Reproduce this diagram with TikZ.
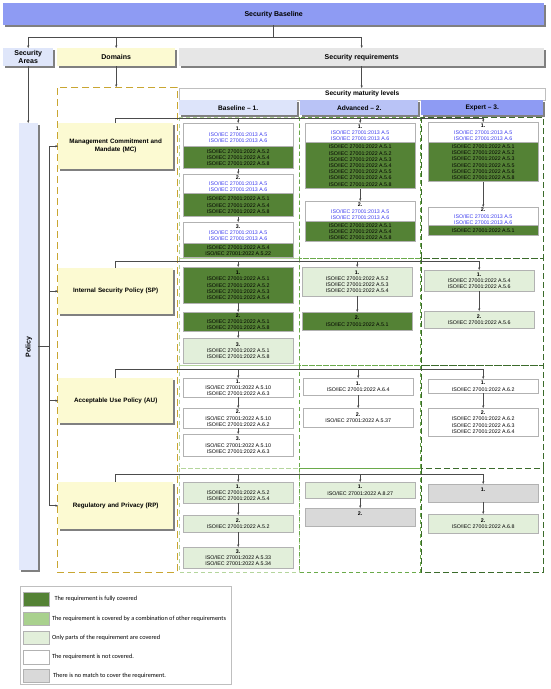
\documentclass[tikz,border=0pt]{standalone}
\usepackage{fontspec}
\setmainfont{Liberation Sans}
\newfontfamily\legfont{Carlito}
\usetikzlibrary{arrows.meta,shadows}
\definecolor{cSB}{HTML}{8E9BF3}
\definecolor{cSA}{HTML}{DFE6FA}
\definecolor{cDom}{HTML}{FCFAD2}
\definecolor{cSR}{HTML}{E6E6E6}
\definecolor{cLB}{HTML}{DDE4FA}
\definecolor{cLA}{HTML}{B9C3F6}
\definecolor{cLE}{HTML}{8E9BF3}
\definecolor{cPol}{HTML}{E3E9FB}
\definecolor{cFull}{HTML}{548235}
\definecolor{cComb}{HTML}{A9D18E}
\definecolor{cPart}{HTML}{E2EFDA}
\definecolor{cNone}{HTML}{D9D9D9}
\definecolor{cBlue}{HTML}{3B3BEF}
\definecolor{cGold}{HTML}{C9A632}
\definecolor{cFrB}{HTML}{B4D59C}
\definecolor{cFrA}{HTML}{6AAA4A}
\definecolor{cFrE}{HTML}{3B6B2B}
\newcommand\isoold[1]{\textcolor{cBlue}{ISO/IEC 27001:2013 A.#1}}
\newcommand\isonew[1]{ISO/IEC 27001:2022 A.#1}
\newcommand\stepnum[1]{\textbf{#1}}
\tikzset{
  shad/.style={drop shadow={shadow xshift=2pt,shadow yshift=-2pt,fill=black!50,opacity=1}},
  hdr/.style={anchor=north west, inner sep=0pt, shad, align=center, font=\fontsize{7}{8.5}\selectfont\bfseries},
  lvl/.style={anchor=north west, inner sep=0pt, shad, minimum height=15pt, font=\fontsize{6.6}{8}\selectfont\bfseries},
  dombox/.style={anchor=north west, inner sep=0pt, shad, fill=cDom, minimum width=115pt, text width=108pt, align=center, font=\fontsize{6.3}{8}\selectfont\bfseries},
  cellbase/.style={draw=black!30, line width=0.4pt, inner sep=0pt, minimum width=110pt, align=center, font=\fontsize{5.3}{6.2}\selectfont},
  cw/.style={cellbase, fill=white},
  cg/.style={cellbase, fill=cFull},
  cl/.style={cellbase, fill=cPart},
  cx/.style={cellbase, fill=cNone},
  conn/.style={draw=black!70, line width=0.45pt},
  arr/.style={conn, -{Stealth[length=2.6pt,width=2.2pt]}},
  frB/.style={draw=cFrB, line width=0.7pt, dash pattern=on 4pt off 3pt},
  frA/.style={draw=cFrA, line width=0.7pt, dash pattern=on 4pt off 3pt},
  frE/.style={draw=cFrE, line width=0.8pt, dash pattern=on 6pt off 3pt},
  domframe/.style={anchor=north west, draw=cGold, line width=0.9pt, dash pattern=on 7pt off 4pt, inner sep=0pt},
  swatch/.style={anchor=north west, draw=black!30, line width=0.4pt, minimum width=26pt, inner sep=0pt},
  legt/.style={anchor=west, inner sep=0pt, font=\legfont\fontsize{6.3}{7.5}\selectfont},
}
\begin{document}
\begin{tikzpicture}[x=1pt,y=-1pt]
\useasboundingbox (0,0) rectangle (550,689);
% ---------- header ----------
\node[hdr, fill=cSB, minimum width=541pt, minimum height=22pt] (sb) at (3,3) {Security Baseline};
\node[hdr, fill=cSA, minimum width=50pt, minimum height=18pt] (sa) at (3,48) {Security\\Areas};
\node[hdr, fill=cDom, minimum width=118pt, minimum height=18pt] (dom) at (57,48) {Domains};
\node[hdr, fill=cSR, minimum width=365pt, minimum height=18pt] (sr) at (179,48) {Security requirements};
\coordinate (bus0) at (0,37);
\draw[conn] (sb.south) -- (sb.south |- bus0);
\draw[conn] (sa.north |- bus0) -- (sr.north |- bus0);
\draw[arr] (sa.north |- bus0) -- (sa.north);
\draw[arr] (dom.north |- bus0) -- (dom.north);
\draw[arr] (sr.north |- bus0) -- (sr.north);
% ---------- column frames ----------
\foreach \ya/\yb in {117/258,258/365,365/468,468/572}{
  \draw[frB] (179,\ya) rectangle (299,\yb);
  \draw[frA] (299,\ya) rectangle (420,\yb);
  \draw[frE] (421,\ya) rectangle (543,\yb);
}
\node[domframe, minimum width=120pt, minimum height=485pt] (domf) at (57,87) {};
\draw[arr] (dom.south) -- (dom.south |- domf.north);
% ---------- maturity levels ----------
\node[anchor=north west, draw=black!25, fill=white, inner sep=0pt, minimum width=366pt, minimum height=12pt, font=\fontsize{6.6}{8}\selectfont\bfseries] (sml) at (179,88) {Security maturity levels};
\draw[arr] (sr.south) -- (sr.south |- sml.north);
\node[lvl, fill=cLB, minimum width=118pt] (lvB) at (179,100) {Baseline -- 1.};
\node[lvl, fill=cLA, minimum width=118pt] (lvA) at (300,100) {Advanced -- 2.};
\node[lvl, fill=cLE, minimum width=122pt] (lvE) at (421,100) {Expert -- 3.};
% ---------- policy ----------
\node[anchor=north west, inner sep=0pt, shad, fill=cPol, minimum width=19pt, minimum height=447pt] (pol) at (19,123) {};
\node[rotate=90, inner sep=0pt, font=\fontsize{7}{8.5}\selectfont\bfseries] (polt) at (pol.center) {Policy};
\draw[arr] (sa.south) -- (sa.south |- pol.north);
% ---------- domains ----------
\node[dombox, minimum height=46pt] (mc) at (58,123) {Management Commitment and\\Mandate (MC)};
\node[dombox, minimum height=46pt] (sp) at (58,268) {Internal Security Policy (SP)};
\node[dombox, minimum height=45pt] (au) at (58,378) {Acceptable Use Policy (AU)};
\node[dombox, minimum height=47pt] (rp) at (58,482) {Regulatory and Privacy (RP)};
\coordinate (pj) at (49,0);
\draw[conn] (pol.east) -- (pol.east -| pj);
\draw[conn] (pj |- mc.west) -- (pj |- rp.west);
\draw[arr] (pj |- mc.west) -- (mc.west);
\draw[arr] (pj |- sp.west) -- (sp.west);
\draw[arr] (pj |- au.west) -- (au.west);
\draw[arr] (pj |- rp.west) -- (rp.west);
% ---------- MC row ----------
\node[cw, anchor=north west, minimum height=23pt] (mB1a) at (183,123) {\stepnum{1.}\\\isoold{5}\\\isoold{6}};
\node[cg, anchor=north, minimum height=22pt] (mB1b) at (mB1a.south) {\isonew{5.2}\\\isonew{5.4}\\\isonew{5.8}};
\node[cw, anchor=north west, minimum height=19pt] (mB2a) at (183,174) {\stepnum{2.}\\\isoold{5}\\\isoold{6}};
\node[cg, anchor=north, minimum height=23pt] (mB2b) at (mB2a.south) {\isonew{5.1}\\\isonew{5.4}\\\isonew{5.8}};
\node[cw, anchor=north west, minimum height=21pt] (mB3a) at (183,222) {\stepnum{3.}\\\isoold{5}\\\isoold{6}};
\node[cg, anchor=north, minimum height=14pt] (mB3b) at (mB3a.south) {\isonew{5.4}\\\isonew{5.22}};
\draw[arr] (mB1b.south) -- (mB2a.north);
\draw[arr] (mB2b.south) -- (mB3a.north);
\node[cw, anchor=north west, minimum height=19pt] (mA1a) at (305,123) {\stepnum{1.}\\\isoold{5}\\\isoold{6}};
\node[cg, anchor=north, minimum height=46pt] (mA1b) at (mA1a.south) {\isonew{5.1}\\\isonew{5.2}\\\isonew{5.3}\\\isonew{5.4}\\\isonew{5.5}\\\isonew{5.6}\\\isonew{5.8}};
\node[cw, anchor=north west, minimum height=20pt] (mA2a) at (305,201) {\stepnum{2.}\\\isoold{5}\\\isoold{6}};
\node[cg, anchor=north, minimum height=20pt] (mA2b) at (mA2a.south) {\isonew{5.1}\\\isonew{5.4}\\\isonew{5.8}};
\draw[arr] (mA1b.south) -- (mA2a.north);
\node[cw, anchor=north west, minimum height=20pt] (mE1a) at (428,122) {\stepnum{1.}\\\isoold{5}\\\isoold{6}};
\node[cg, anchor=north, minimum height=39pt] (mE1b) at (mE1a.south) {\isonew{5.1}\\\isonew{5.2}\\\isonew{5.3}\\\isonew{5.5}\\\isonew{5.6}\\\isonew{5.8}};
\node[cw, anchor=north west, minimum height=18pt] (mE2a) at (428,207) {\stepnum{2.}\\\isoold{5}\\\isoold{6}};
\node[cg, anchor=north, minimum height=10pt] (mE2b) at (mE2a.south) {\isonew{5.1}};
\draw[arr] (mE1b.south) -- (mE2a.north);
\coordinate (busM) at (0,118);
\draw[conn] (mc.north) |- (mE1a.north |- busM);
\draw[arr] (mB1a.north |- busM) -- (mB1a.north);
\draw[arr] (mA1a.north |- busM) -- (mA1a.north);
\draw[arr] (mE1a.north |- busM) -- (mE1a.north);
% ---------- SP row ----------
\node[cg, anchor=north west, minimum height=36pt] (sB1) at (183,267) {\stepnum{1.}\\\isonew{5.1}\\\isonew{5.2}\\\isonew{5.3}\\\isonew{5.4}};
\node[cg, anchor=north west, minimum height=19pt] (sB2) at (183,312) {\stepnum{2.}\\\isonew{5.1}\\\isonew{5.8}};
\node[cl, anchor=north west, minimum height=25pt] (sB3) at (183,338) {\stepnum{3.}\\\isonew{5.1}\\\isonew{5.8}};
\draw[arr] (sB1.south) -- (sB2.north);
\draw[arr] (sB2.south) -- (sB3.north);
\node[cl, anchor=north west, minimum height=29pt] (sA1) at (302,267) {\stepnum{1.}\\\isonew{5.2}\\\isonew{5.3}\\\isonew{5.4}};
\node[cg, anchor=north west, minimum height=18pt] (sA2) at (302,312) {\stepnum{2.}\\\isonew{5.1}};
\draw[arr] (sA1.south) -- (sA2.north);
\node[cl, anchor=north west, minimum height=21pt] (sE1) at (424,270) {\stepnum{1.}\\\isonew{5.4}\\\isonew{5.6}};
\node[cl, anchor=north west, minimum height=17pt] (sE2) at (424,311) {\stepnum{2.}\\\isonew{5.6}};
\draw[arr] (sE1.south) -- (sE2.north);
\coordinate (busS) at (0,261);
\draw[conn] (sp.north) |- (sE1.north |- busS);
\draw[arr] (sB1.north |- busS) -- (sB1.north);
\draw[arr] (sA1.north |- busS) -- (sA1.north);
\draw[arr] (sE1.north |- busS) -- (sE1.north);
% ---------- AU row ----------
\node[cw, anchor=north west, minimum height=19pt] (aB1) at (183,378) {\stepnum{1.}\\\isonew{5.10}\\\isonew{6.3}};
\node[cw, anchor=north west, minimum height=20pt] (aB2) at (183,408) {\stepnum{2.}\\\isonew{5.10}\\\isonew{6.2}};
\node[cw, anchor=north west, minimum height=22pt] (aB3) at (183,434) {\stepnum{3.}\\\isonew{5.10}\\\isonew{6.3}};
\draw[arr] (aB1.south) -- (aB2.north);
\draw[arr] (aB2.south) -- (aB3.north);
\node[cw, anchor=north west, minimum height=17pt] (aA1) at (303,378) {\stepnum{1.}\\\isonew{6.4}};
\node[cw, anchor=north west, minimum height=19pt] (aA2) at (303,408) {\stepnum{2.}\\\isonew{5.37}};
\draw[arr] (aA1.south) -- (aA2.north);
\node[cw, anchor=north west, minimum height=14pt] (aE1) at (428,379) {\stepnum{1.}\\\isonew{6.2}};
\node[cw, anchor=north west, minimum height=28pt] (aE2) at (428,408) {\stepnum{2.}\\\isonew{6.2}\\\isonew{6.3}\\\isonew{6.4}};
\draw[arr] (aE1.south) -- (aE2.north);
\coordinate (busA) at (0,369);
\draw[conn] (au.north) |- (aE1.north |- busA);
\draw[arr] (aB1.north |- busA) -- (aB1.north);
\draw[arr] (aA1.north |- busA) -- (aA1.north);
\draw[arr] (aE1.north |- busA) -- (aE1.north);
% ---------- RP row ----------
\node[cl, anchor=north west, minimum height=21pt] (rB1) at (183,482) {\stepnum{1.}\\\isonew{5.2}\\\isonew{5.4}};
\node[cl, anchor=north west, minimum height=17pt] (rB2) at (183,515) {\stepnum{2.}\\\isonew{5.2}};
\node[cl, anchor=north west, minimum height=21pt] (rB3) at (183,547) {\stepnum{3.}\\\isonew{5.33}\\\isonew{5.34}};
\draw[arr] (rB1.south) -- (rB2.north);
\draw[arr] (rB2.south) -- (rB3.north);
\node[cl, anchor=north west, minimum height=16pt] (rA1) at (305,482) {\stepnum{1.}\\\isonew{8.27}};
\node[cx, anchor=north west, minimum height=18pt] (rA2) at (305,508) {\stepnum{2.}\\\mbox{}};
\draw[arr] (rA1.south) -- (rA2.north);
\node[cx, anchor=north west, minimum height=18pt] (rE1) at (428,484) {\stepnum{1.}\\\mbox{}};
\node[cl, anchor=north west, minimum height=19pt] (rE2) at (428,514) {\stepnum{2.}\\\isonew{6.8}};
\draw[arr] (rE1.south) -- (rE2.north);
\coordinate (busR) at (0,474);
\draw[conn] (rp.north) |- (rE1.north |- busR);
\draw[arr] (rB1.north |- busR) -- (rB1.north);
\draw[arr] (rA1.north |- busR) -- (rA1.north);
\draw[arr] (rE1.north |- busR) -- (rE1.north);
% ---------- legend ----------
\node[anchor=north west, draw=black!25, line width=0.5pt, minimum width=211pt, minimum height=98pt, inner sep=0pt] (leg) at (20,586) {};
\node[swatch, fill=cFull, minimum height=14pt] (lg1) at (23,592) {};
\node[swatch, fill=cComb, minimum height=13pt] (lg2) at (23,612) {};
\node[swatch, fill=cPart, minimum height=13pt] (lg3) at (23,631) {};
\node[swatch, fill=white, minimum height=14pt] (lg4) at (23,650) {};
\node[swatch, fill=cNone, minimum height=13pt] (lg5) at (23,669) {};
\node[legt] (lt1) at ([xshift=5pt]lg1.east) {The requirement is fully covered};
\node[legt] (lt2) at ([xshift=2.5pt]lg2.east) {The requirement is covered by a combination of other requirements};
\node[legt] (lt3) at ([xshift=2.5pt]lg3.east) {Only parts of the requirement are covered};
\node[legt] (lt4) at ([xshift=2.5pt]lg4.east) {The requirement is not covered.};
\node[legt] (lt5) at ([xshift=3.5pt]lg5.east) {There is no match to cover the requirement.};
\end{tikzpicture}
\end{document}
